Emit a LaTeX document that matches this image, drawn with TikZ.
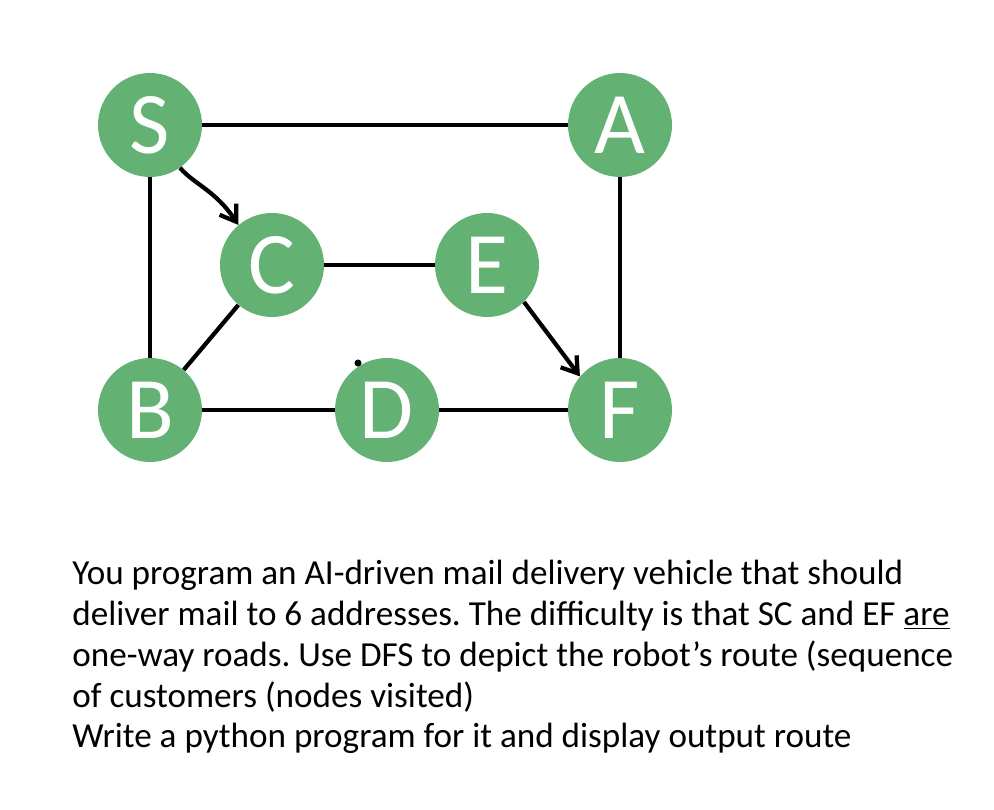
\documentclass[tikz,border=0pt]{standalone}
\usepackage{fontspec}
\setmainfont{Carlito}
\usetikzlibrary{arrows.meta,positioning}
\definecolor{nodegreen}{RGB}{100,178,115}
\begin{document}
\begin{tikzpicture}[x=0.02cm,y=-0.02cm]
  \tikzstyle{n}=[circle,fill=nodegreen,minimum size=2.08cm,inner sep=0pt,text=white,font=\fontsize{50}{50}\selectfont]
  \tikzstyle{road}=[line width=2.4pt,black]
  \useasboundingbox (0,0) rectangle (994,810);
  \node[n] (s) at (150,125) {S};
  \node[n] (a) at (620,125) {A};
  \node[n] (c) at (272,265) {C};
  \node[n] (e) at (487,265) {E};
  \node[n] (b) at (150,410) {B};
  \node[n] (d) at (387,410) {D};
  \node[n] (f) at (620,410) {F};
  \draw[road] (s) -- (a);
  \draw[road] (s) -- (b);
  \draw[road] (a) -- (f);
  \draw[road] (c) -- (e);
  \draw[road] (c) -- (b);
  \draw[road] (b) -- (d);
  \draw[road] (d) -- (f);
  % one-way roads
  \draw[road,-{Straight Barb[length=3mm,width=4mm]}] (s.-55) .. controls (195,185) and (215,190) .. (c.130);
  \draw[road,-{Straight Barb[length=3mm,width=4mm]}] (e.-45) -- (f.140);
  \fill (358,363) circle (2pt);
  \node[anchor=north west,align=left,font=\fontsize{20}{23.2}\selectfont\frenchspacing,inner sep=0pt] (txt) at (72,560)
    {You program an AI-driven mail delivery vehicle that should\\
    deliver mail to 6 addresses. The difficulty is that SC and EF \underline{are}\\
    one-way roads. Use DFS to depict the robot’s route (sequence\\
    of customers (nodes visited)\\
    Write a python program for it and display output route};
\end{tikzpicture}
\end{document}
